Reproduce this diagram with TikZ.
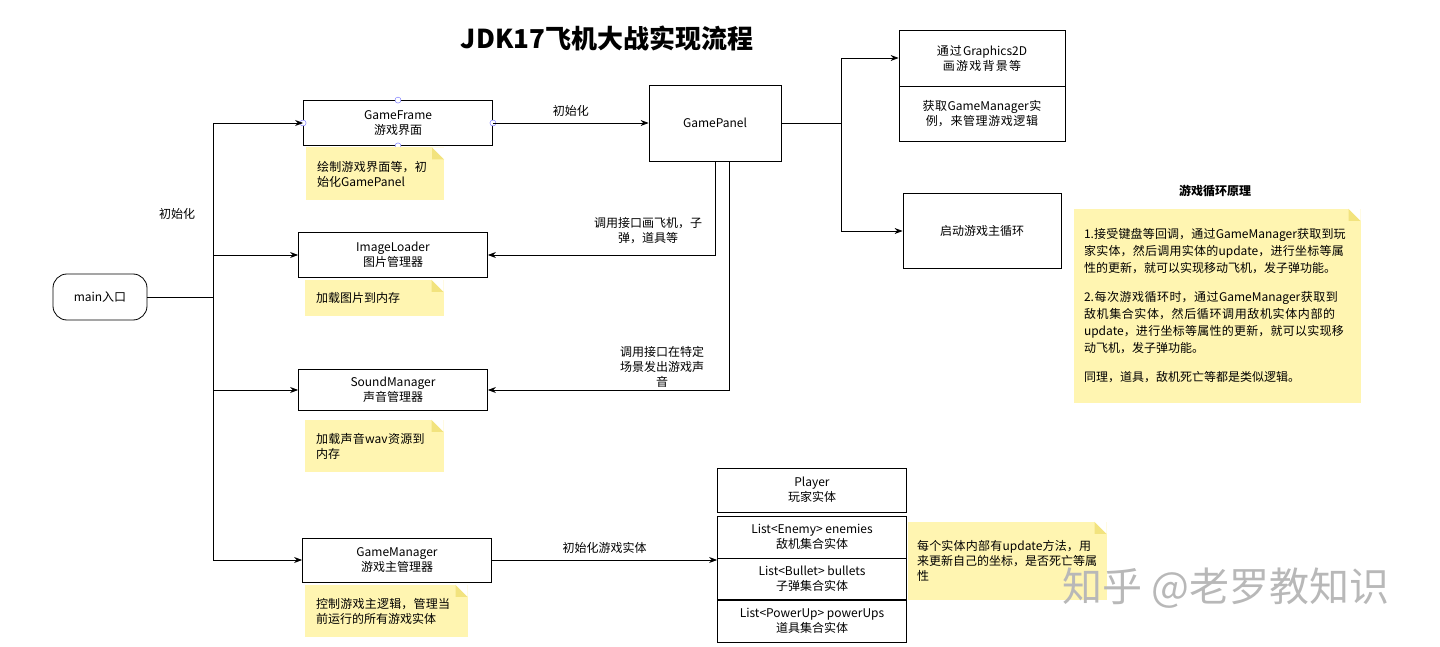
\documentclass[tikz,border=0pt]{standalone}
\usepackage{fontspec}
\setmainfont{Noto Sans CJK SC}
\XeTeXlinebreaklocale "zh"
\XeTeXlinebreakskip=0pt plus 1pt
\usetikzlibrary{arrows.meta,positioning}
\definecolor{notey}{HTML}{FFF5B1}
\definecolor{noteedge}{HTML}{F2E37E}
\tikzset{
  box/.style={rectangle,draw,thick,align=center,font=\fontsize{12}{15}\selectfont,inner sep=0pt},
  note/.style={rectangle,fill=notey,align=left,font=\fontsize{12}{15}\selectfont,inner sep=0pt},
  lbl/.style={font=\fontsize{12}{15}\selectfont,align=center},
  flow/.style={->,>={Stealth[length=8pt,width=6pt]},thick},
  handle/.style={circle,draw=blue!60,fill=white,inner sep=0pt,minimum size=6pt}
}
\newcommand{\fold}[1]{\fill[noteedge] ([xshift=-12pt]#1.north east) -- ([yshift=-12pt]#1.north east) -- ([xshift=-12pt,yshift=-12pt]#1.north east) -- cycle;
  \fill[white] ([xshift=-12pt]#1.north east) -- (#1.north east) -- ([yshift=-12pt]#1.north east) -- cycle;}
\begin{document}
\begin{tikzpicture}[x=1pt,y=-1pt]
  \useasboundingbox (0,0) rectangle (1440,647);
  \node[font=\fontsize{26}{30}\selectfont\bfseries] (title) at (607,38) {JDK17飞机大战实现流程};

  % left column
  \node[box,rounded corners=14pt,minimum width=94pt,minimum height=46pt] (main) at (100,297) {main入口};
  \node[box,minimum width=189pt,minimum height=45pt] (frame) at (398,123) {GameFrame\\游戏界面};
  \node[box,minimum width=189pt,minimum height=45pt] (loader) at (393,255) {ImageLoader\\图片管理器};
  \node[box,minimum width=189pt,minimum height=41pt] (sound) at (393,390) {SoundManager\\声音管理器};
  \node[box,minimum width=189pt,minimum height=44pt] (manager) at (397,560) {GameManager\\游戏主管理器};
  \foreach \a in {north,south,east,west} \node[handle] at (frame.\a) {};

  \node[note,minimum width=138pt,minimum height=53pt,text width=116pt] (n1) at (375,174) {绘制游戏界面等，初始化GamePanel};
  \node[note,minimum width=139pt,minimum height=36pt,text width=116pt] (n2) at (374,298) {加载图片到内存};
  \node[note,minimum width=139pt,minimum height=52pt,text width=116pt] (n3) at (374,446) {加载声音wav资源到内存};
  \node[note,minimum width=163pt,minimum height=52pt,text width=140pt] (n4) at (386,611) {控制游戏主逻辑，管理当前运行的所有游戏实体};
  \fold{n1} \fold{n2} \fold{n3} \fold{n4}

  % middle and right
  \node[box,minimum width=132pt,minimum height=76pt] (panel) at (715,123) {GamePanel};
  \node[box,minimum width=166pt,minimum height=56pt,text width=140pt] (draw) at (982,58) {通过Graphics2D画游戏背景等};
  \node[box,minimum width=166pt,minimum height=55pt,text width=140pt] (logic) at (982,114) {获取GameManager实例，来管理游戏逻辑};
  \node[box,minimum width=158pt,minimum height=75pt] (loop) at (982,231) {启动游戏主循环};

  \node[box,minimum width=189pt,minimum height=44pt] (player) at (812,490) {Player\\玩家实体};
  \node[box,minimum width=189pt,minimum height=42pt] (enemy) at (812,537) {List<Enemy> enemies\\敌机集合实体};
  \node[box,minimum width=189pt,minimum height=42pt] (bullet) at (812,579) {List<Bullet> bullets\\子弹集合实体};
  \node[box,minimum width=189pt,minimum height=43pt] (power) at (812,621) {List<PowerUp> powerUps\\道具集合实体};
  \node[note,minimum width=199pt,minimum height=78pt,text width=180pt] (n5) at (1007,561) {每个实体内部有update方法，用来更新自己的坐标，是否死亡等属性};
  \fold{n5}

  \node[font=\fontsize{12}{15}\selectfont\bfseries] (looptitle) at (1215,191) {游戏循环原理};
  \node[note,minimum width=287pt,minimum height=194pt,text width=266pt,font=\fontsize{12}{17}\selectfont] (n6) at (1217,306)
    {1.接受键盘等回调，通过GameManager获取到玩家实体，然后调用实体的update，进行坐标等属性的更新，就可以实现移动飞机，发子弹功能。\\[12pt]
     2.每次游戏循环时，通过GameManager获取到敌机集合实体，然后循环调用敌机实体内部的update，进行坐标等属性的更新，就可以实现移动飞机，发子弹功能。\\[12pt]
     同理，道具，敌机死亡等都是类似逻辑。};
  \fold{n6}

  \node[font=\fontsize{40}{44}\selectfont,text=black!28] (mark) at (1226,588) {知乎 @老罗教知识};

  % connectors
  \coordinate (trunk) at (213,297);
  \draw[thick] (main) -- (trunk);
  \draw[flow] (trunk) |- (frame.west);
  \draw[flow] (trunk) |- (loader.west);
  \draw[flow] (trunk) |- (sound.west);
  \draw[flow] (trunk) |- (manager.west);
  \node[lbl] (l1) at (177,214) {初始化};
  \draw[flow] (frame.east) -- node[lbl,above=3pt] {初始化} (panel.west);
  \draw[flow] ([xshift=0pt]panel.south) |- (loader.east);
  \node[lbl] (l2) at (648,231) {调用接口画飞机，子\\弹，道具等};
  \draw[flow] ([xshift=14pt]panel.south) |- (sound.east);
  \node[lbl] (l3) at (662,367) {调用接口在特定\\场景发出游戏声\\音};
  \draw[flow] (manager.east) -- node[lbl,above=3pt] {初始化游戏实体} (manager.east -| enemy.west);
  \coordinate (split) at (841,123);
  \draw[thick] (panel.east) -- (split);
  \draw[flow] (split) |- (draw.west);
  \draw[flow] (split) |- (loop.west);
\end{tikzpicture}
\end{document}
